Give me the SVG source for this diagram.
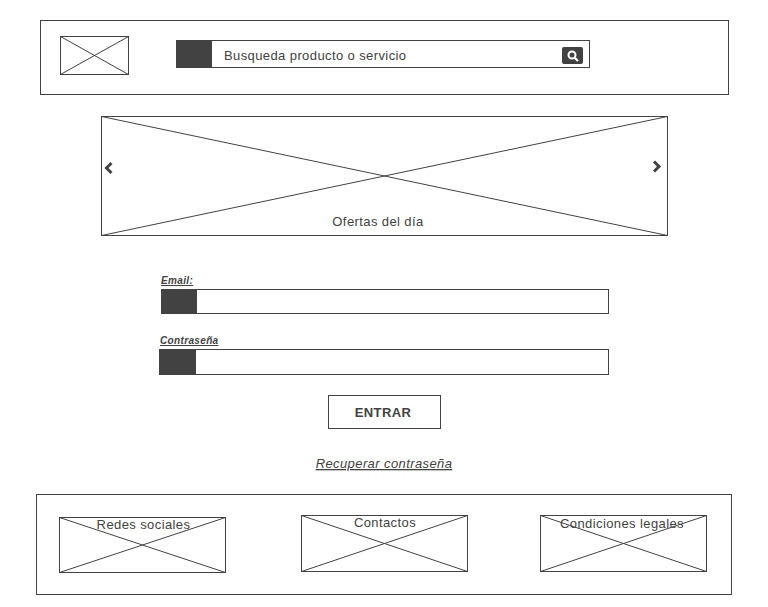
<svg xmlns="http://www.w3.org/2000/svg" width="768" height="607" viewBox="0 0 768 607">
<style>
.b{fill:#fff;stroke:#424242;stroke-width:1}
.l{stroke:#424242;stroke-width:1;fill:none}
.d{fill:#424242;stroke:none}
text{font-family:"Liberation Sans",Arial,sans-serif;fill:#424242;font-size:13px;letter-spacing:.4px}
.m{text-anchor:middle}
.s{font-size:10px;font-weight:bold;font-style:italic;text-decoration:underline;letter-spacing:.35px}
</style>
<rect width="768" height="607" fill="#fff"/>
<g id="header"><rect class="b" x="40.500" y="20.500" width="688" height="74"/></g>
<g id="logo"><rect class="b" x="60.500" y="36.500" width="68" height="38"/><path class="l" d="M60.500 36.500L128.500 74.500M128.500 36.500L60.500 74.500"/></g>
<g id="search">
<rect class="b" x="176.500" y="40.500" width="413" height="27"/>
<rect class="d" x="176" y="40" width="36" height="28"/>
<text x="224" y="60">Busqueda producto o servicio</text>
<rect class="d" x="562" y="47" width="21" height="17" rx="2"/>
<circle cx="572" cy="55" r="3.500" fill="none" stroke="#fff" stroke-width="2"/>
<path d="M574.500 57.500L578 61" stroke="#fff" stroke-width="2.200" fill="none"/>
</g>
<g id="carousel">
<rect class="b" x="101.500" y="116.500" width="566" height="119"/>
<path class="l" d="M101.500 116.500L667.500 235.500M667.500 116.500L101.500 235.500"/>
<path d="M111.500 163L106.500 168L111.500 173" fill="none" stroke="#424242" stroke-width="3"/>
<path d="M654 161.500L659 166.500L654 171.500" fill="none" stroke="#424242" stroke-width="3"/>
<text class="m" x="378" y="226">Ofertas del día</text>
</g>
<g id="email">
<text class="s" x="161" y="284">Email:</text>
<rect class="b" x="161.500" y="289.500" width="447" height="24"/>
<rect class="d" x="161" y="289" width="36" height="25"/>
</g>
<g id="password">
<text class="s" x="160" y="344">Contraseña</text>
<rect class="b" x="159.500" y="349.500" width="449" height="25"/>
<rect class="d" x="159" y="349" width="37" height="26"/>
</g>
<g id="submit">
<rect class="b" x="328.500" y="395.500" width="112" height="33"/>
<text class="m" x="383" y="417" style="font-weight:bold">ENTRAR</text>
</g>
<g id="recover"><text class="m" x="384" y="468" style="font-style:italic;text-decoration:underline">Recuperar contraseña</text></g>
<g id="footer"><rect class="b" x="36.500" y="494.500" width="695" height="100"/></g>
<g id="social">
<rect class="b" x="59.500" y="517.500" width="166" height="55"/>
<path class="l" d="M59.500 517.500L225.500 572.500M225.500 517.500L59.500 572.500"/>
<text class="m" x="143.500" y="529">Redes sociales</text>
</g>
<g id="contacts">
<rect class="b" x="301.500" y="515.500" width="166" height="56"/>
<path class="l" d="M301.500 515.500L467.500 571.500M467.500 515.500L301.500 571.500"/>
<text class="m" x="385" y="527">Contactos</text>
</g>
<g id="legal">
<rect class="b" x="540.500" y="515.500" width="166" height="56"/>
<path class="l" d="M540.500 515.500L706.500 571.500M706.500 515.500L540.500 571.500"/>
<text class="m" x="622" y="528">Condiciones legales</text>
</g>
<g id="connectors"/>
</svg>
